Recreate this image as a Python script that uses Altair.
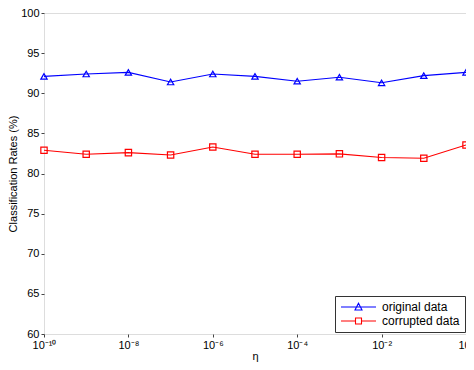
import altair as alt
import pandas as pd

eta = [1e-10, 1e-9, 1e-8, 1e-7, 1e-6, 1e-5, 1e-4, 1e-3, 1e-2, 1e-1, 1e0]
original = [92.1, 92.4, 92.6, 91.4, 92.4, 92.1, 91.5, 92.0, 91.3, 92.2, 92.6]
corrupted = [82.9, 82.4, 82.6, 82.3, 83.3, 82.4, 82.4, 82.45, 82.0, 81.9, 83.55]
series = ["original data", "corrupted data"]
colors = ["#0000ff", "#ff0000"]
tick_values = [1e-10, 1e-8, 1e-6, 1e-4, 1e-2, 1e0]
tick_labels = ["10⁻¹⁰", "10⁻⁸", "10⁻⁶", "10⁻⁴", "10⁻²", "10⁰"]
y_ticks = [60, 65, 70, 75, 80, 85, 90, 95, 100]

rows = []
for e, o, c in zip(eta, original, corrupted):
    rows.append({"eta": e, "rate": o, "series": series[0]})
    rows.append({"eta": e, "rate": c, "series": series[1]})
df = pd.DataFrame(rows)

expr = ""
for v, lab in zip(tick_values[:-1], tick_labels[:-1]):
    expr += f"datum.value < {v * 3:g} ? '{lab}' : "
expr += f"'{tick_labels[-1]}'"

FONT = "Liberation Sans"

x = alt.X("eta:Q", scale=alt.Scale(type="log", domain=[1e-10, 1]),
          axis=alt.Axis(values=tick_values, labelExpr=expr, title="η",
                        grid=False, tickSize=3, labelPadding=2, titlePadding=0,
                        labelFontSize=11, titleFontSize=11, titleFontWeight="normal",
                        labelFont=FONT, titleFont=FONT, labelColor="black",
                        titleColor="black", domain=False, tickColor="#444",
                        labelFlush=False))
y = alt.Y("rate:Q", scale=alt.Scale(domain=[60, 100]),
          axis=alt.Axis(values=y_ticks, title="Classification Rates (%)",
                        grid=False, tickSize=3, labelPadding=2, titlePadding=2,
                        labelFontSize=11, titleFontSize=11, titleFontWeight="normal",
                        labelFont=FONT, titleFont=FONT, labelColor="black",
                        titleColor="black", domain=False, tickColor="#444"))

lines = alt.Chart(df).mark_line(strokeWidth=1.1).encode(
    x=x, y=y,
    color=alt.Color("series:N", scale=alt.Scale(domain=series, range=colors), legend=None),
    detail="series:N")

points = alt.Chart(df).mark_point(filled=False, size=40, strokeWidth=1.2, opacity=1).encode(
    x=x, y=y,
    color=alt.Color("series:N", scale=alt.Scale(domain=series, range=colors), legend=None),
    shape=alt.Shape("series:N", scale=alt.Scale(domain=series, range=["triangle-up", "square"]),
                    legend=None))

# legend glyphs: a line with the marker in its middle (unit r = 5px)
tri_path = "M-1,0L6,0M2.5,-0.75L3.2,0.6L1.8,0.6Z"
sq_path = "M-1,0L1.9,0M3.1,0L6,0M1.9,-0.6L3.1,-0.6L3.1,0.6L1.9,0.6Z"
leg = alt.Legend(title=None, orient="none", legendX=291, legendY=283,
                 strokeColor="#333", fillColor="white", padding=5,
                 labelFontSize=12, labelFont=FONT, labelColor="black",
                 rowPadding=2, symbolStrokeWidth=1.1, labelOffset=30, cornerRadius=0,
                 symbolSize=100, symbolFillColor="transparent")

legend_layer = alt.Chart(df).transform_filter("false").mark_point(
    filled=False, size=100, strokeWidth=1.1, opacity=1).encode(
    x=x, y=y,
    color=alt.Color("series:N", scale=alt.Scale(domain=series, range=colors), legend=leg),
    shape=alt.Shape("series:N", scale=alt.Scale(domain=series, range=[tri_path, sq_path]),
                    legend=leg))

chart = alt.layer(lines, points, legend_layer).resolve_scale(
    shape="independent", color="independent").properties(
    width=422, height=321,
    autosize=alt.AutoSizeParams(type="none"),
    padding={"left": 36, "top": 5, "right": 0, "bottom": 28},
).configure_view(stroke="#444", strokeWidth=1).configure(background="white")

chart.save("out.html", embed_options={"renderer": "svg", "actions": False})
